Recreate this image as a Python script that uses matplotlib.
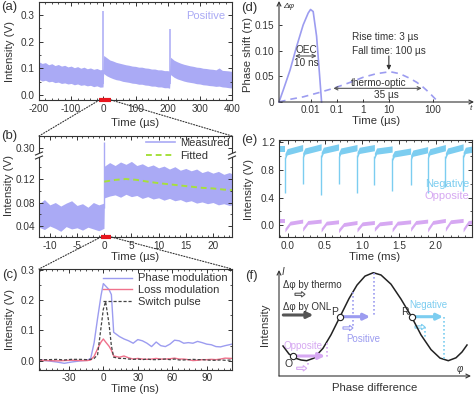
import matplotlib
matplotlib.use("Agg")
import matplotlib.pyplot as plt
from matplotlib.lines import Line2D
from matplotlib.patches import ConnectionPatch, Rectangle
from matplotlib.ticker import MultipleLocator, FixedLocator

plt.rcParams["font.family"] = ["Liberation Sans", "DejaVu Sans"]
plt.rcParams["axes.unicode_minus"] = False

W, H = 474, 398
INK = "#333333"
LAV = "#aaaaf5"
PHASE = "#9c9cf0"
LOSS = "#f0728c"
SWITCH = "#444444"
FIT = "#a6e03c"
NEG = "#7ccdf0"
OPP = "#d6a8f2"
RED = "#e8161e"

# ---- (a) 正向调制, 长时间尺度 (包络) ----
a_t = [-200, -190, -180, -170, -160, -150, -140, -130, -120, -110, -100, -90, -80, -70, -60, -50, -40, -30, -20, -10, -1,
       1, 10, 20, 30, 40, 50, 60, 70, 80, 90, 100, 110, 120, 130, 140, 150, 160, 170, 180, 190, 200, 206,
       209, 220, 230, 240, 250, 260, 270, 280, 290, 300, 310, 320, 330, 340, 350, 360, 370, 380, 390, 400]
a_hi = [0.124, 0.118, 0.121, 0.113, 0.117, 0.110, 0.114, 0.108, 0.111, 0.105, 0.108, 0.102, 0.106, 0.100, 0.104, 0.098, 0.101, 0.096, 0.099, 0.094, 0.096,
        0.148, 0.140, 0.131, 0.127, 0.122, 0.119, 0.116, 0.113, 0.111, 0.108, 0.107, 0.104, 0.104, 0.101, 0.100, 0.097, 0.097, 0.094, 0.094, 0.091, 0.091, 0.089,
        0.141, 0.130, 0.124, 0.119, 0.115, 0.112, 0.109, 0.107, 0.104, 0.103, 0.100, 0.099, 0.097, 0.096, 0.094, 0.101, 0.092, 0.091, 0.090, 0.088]
a_lo = [0.058, 0.052, 0.055, 0.049, 0.051, 0.046, 0.048, 0.043, 0.045, 0.041, 0.043, 0.038, 0.041, 0.036, 0.038, 0.034, 0.036, 0.031, 0.034, 0.029, 0.030,
        0.080, 0.072, 0.066, 0.061, 0.057, 0.055, 0.051, 0.049, 0.047, 0.044, 0.043, 0.040, 0.040, 0.037, 0.036, 0.033, 0.033, 0.030, 0.030, 0.027, 0.027, 0.025,
        0.076, 0.066, 0.060, 0.056, 0.052, 0.049, 0.047, 0.045, 0.042, 0.041, 0.038, 0.037, 0.035, 0.034, 0.032, 0.033, 0.030, 0.029, 0.027, 0.026]
a_spike_t = [0, 207]
a_spike_top = [0.316, 0.246]
zoom_b = (-12, 24)

# ---- (b) 放大 ----
b_t = [-12, -11, -10, -9, -8, -7, -6, -5, -4, -3, -2, -1, -0.05,
       0.05, 1, 2, 3, 4, 5, 6, 7, 8, 9, 10, 11, 12, 13, 14, 15, 16, 17, 18, 19, 20, 21, 22, 23, 24]
b_hi = [0.078, 0.085, 0.076, 0.080, 0.074, 0.079, 0.083, 0.075, 0.078, 0.072, 0.080, 0.076, 0.079,
        0.142, 0.148, 0.143, 0.149, 0.145, 0.150, 0.143, 0.146, 0.141, 0.144, 0.139, 0.142, 0.137, 0.141, 0.135,
        0.138, 0.134, 0.137, 0.131, 0.134, 0.130, 0.133, 0.128, 0.131, 0.127]
b_lo = [0.038, 0.034, 0.040, 0.036, 0.031, 0.039, 0.035, 0.037, 0.033, 0.038, 0.035, 0.032, 0.036,
        0.088, 0.091, 0.093, 0.089, 0.094, 0.090, 0.092, 0.087, 0.090, 0.086, 0.088, 0.084, 0.087, 0.083, 0.085,
        0.081, 0.083, 0.079, 0.081, 0.078, 0.080, 0.076, 0.078, 0.075, 0.077]
fit_t = [0, 2, 4, 6, 8, 10, 12, 14, 16, 18, 20, 22, 24]
fit_v = [0.1155, 0.1185, 0.120, 0.1185, 0.1155, 0.113, 0.111, 0.109, 0.107, 0.105, 0.104, 0.102, 0.101]
b_spike = (0.07, 0.31)
zoom_c = (-0.6, 1.3)

# ---- (c) ns 尺度 ----
c_t = [-56, -48, -40, -34, -28, -20, -14, -11, -8, -5, -2, 0, 2, 5, 7, 9, 14, 18, 22, 26, 30,
       34, 38, 42, 46, 50, 54, 58, 62, 66, 70, 74, 78, 82, 86, 90, 94, 98, 102, 106, 112]
c_phase = [0.003, 0.000, -0.004, -0.008, -0.004, 0.000, 0.002, 0.008, 0.060, 0.140, 0.215, 0.254, 0.246, 0.234, 0.218,
           0.094, 0.080, 0.072, 0.066, 0.058, 0.070, 0.066, 0.058, 0.047, 0.062, 0.050, 0.047, 0.055, 0.068, 0.066,
           0.058, 0.060, 0.058, 0.064, 0.060, 0.055, 0.053, 0.047, 0.046, 0.050, 0.055]
c_loss = [0.002, 0.001, 0.000, 0.001, 0.002, 0.001, 0.001, 0.003, 0.015, 0.040, 0.062, 0.072, 0.062, 0.048, 0.035,
          0.016, 0.012, 0.016, 0.010, 0.006, 0.008, 0.006, 0.005, 0.006, 0.008, 0.006, 0.006, 0.007, 0.009, 0.006,
          0.006, 0.004, 0.001, 0.002, 0.004, 0.004, 0.005, 0.004, 0.006, 0.009, 0.008]
c_switch = [0.004, 0.004, 0.005, 0.003, 0.005, 0.005, 0.004, 0.005, 0.008, 0.020, 0.110, 0.170, 0.195, 0.120, 0.050,
            0.012, 0.008, 0.008, 0.006, 0.005, 0.006, 0.004, 0.006, 0.004, 0.004, 0.005, 0.006, 0.004, 0.006, 0.003,
            0.003, 0.004, 0.005, 0.004, 0.004, 0.003, 0.002, 0.002, 0.003, 0.002, 0.003]

# ---- (d) 示意: 相移 (x 为对数位置) ----
d_oec_x = [-3.2, -3.04, -2.78, -2.53, -2.28, -2.09, -2.0, -1.90, -1.77, -1.66, -1.58]
d_oec_y = [0.0, 0.023, 0.062, 0.108, 0.150, 0.173, 0.180, 0.176, 0.128, 0.055, 0.0]
d_to_x = [-3.2, -2.8, -2.28, -1.7, -1.13, -0.5, 0.0, 0.5, 1.02, 1.4, 1.78, 2.05, 2.29, 2.5, 2.67, 2.86]
d_to_y = [0.0, 0.005, 0.010, 0.018, 0.0266, 0.038, 0.048, 0.055, 0.059, 0.055, 0.046, 0.038, 0.0286, 0.019, 0.010, 0.0]
d_tick_pos = [-2, -1, 0, 1, 2.66]
d_tick_lab = ["0.01", "0.1", "1", "10", "100"]

# ---- (e) 负向 / 反向 ----
e_dip_t = [-0.04, 0.20, 0.45, 0.685, 0.935, 1.17, 1.41, 1.66, 1.89, 2.13, 2.37]
neg_start = [0.99, 1.00, 1.01, 1.00, 1.01, 1.00, 0.97, 0.97, 0.99, 1.00, 1.01]
neg_knee = [1.06, 1.07, 1.08, 1.07, 1.08, 1.07, 1.03, 1.04, 1.06, 1.07, 1.08]
neg_end = [1.12, 1.13, 1.13, 1.12, 1.12, 1.10, 1.07, 1.09, 1.12, 1.13, 1.12]
neg_dip = [0.46, 0.60, 0.44, 0.60, 0.46, 0.58, 0.50, 0.58, 0.46, 0.55, 0.50]
opp_start = [-0.07, -0.06, -0.07, -0.08, -0.07, -0.06, -0.07, -0.06, -0.07, -0.06, -0.07]
opp_knee = [0.03, 0.04, 0.03, 0.01, 0.02, 0.02, 0.03, 0.04, 0.04, 0.05, 0.04]
opp_end = [0.06, 0.06, 0.05, 0.04, 0.04, 0.04, 0.05, 0.06, 0.07, 0.07, 0.06]
NEG_PRE, OPP_PRE = 1.10, 0.06

# ---- (f) 示意: 干涉曲线 ----
f_x = [4, 10, 16, 22, 27.7, 35, 44, 52, 61, 70, 78, 86, 94.3, 102, 112, 122, 132.5, 142, 152, 161, 169.3, 177, 183, 188]
f_y = [30, 22, 18, 16, 15.3, 17.9, 27.7, 41.2, 59.3, 77.4, 90.9, 99.9, 103.3, 101.0, 91.8, 76.9, 59.3, 41.1, 26.4, 17.9, 15.3, 18.2, 24, 31]
f_O, f_P, f_R = (14.3, 20), (61, 59.3), (132.5, 59.3)


fig = plt.figure(figsize=(W / 100, H / 100), dpi=100)


def px_axes(l, t, r, b):
    return fig.add_axes([l / W, 1 - b / H, (r - l) / W, (b - t) / H])


def ftext(x, y, s, **kw):
    kw.setdefault("color", INK)
    return fig.text(x / W, 1 - y / H, s, **kw)


def fline(xs, ys, **kw):
    fig.add_artist(Line2D([x / W for x in xs], [1 - y / H for y in ys], **kw))


def boxed(ax, xmaj, xmin, ymaj, ymin):
    ax.xaxis.set_major_locator(MultipleLocator(xmaj))
    ax.xaxis.set_minor_locator(MultipleLocator(xmin))
    ax.yaxis.set_major_locator(MultipleLocator(ymaj))
    ax.yaxis.set_minor_locator(MultipleLocator(ymin))
    ax.tick_params(which="both", direction="in", top=True, right=True,
                   labelsize=7.2, colors=INK)
    ax.tick_params(axis="x", pad=3)
    ax.tick_params(axis="y", pad=3)
    ax.tick_params(which="major", length=3, width=0.7)
    ax.tick_params(which="minor", length=1.6, width=0.6)
    for s in ax.spines.values():
        s.set_color(INK)
        s.set_linewidth(0.8)


# (a)
ax_a = px_axes(39, 1.5, 232, 100)
ax_a.fill_between(a_t, a_lo, a_hi, color=LAV, lw=0)
ax_a.vlines(a_spike_t, 0.04, a_spike_top, color=LAV, lw=1.1)
ax_a.set_xlim(-200, 400)
ax_a.set_ylim(-0.019, 0.35)
boxed(ax_a, 100, 20, 0.1, 0.05)
ax_a.yaxis.set_major_formatter(lambda v, p: f"{v:.1f}")
ax_a.text(0.965, 0.82, "Positive", transform=ax_a.transAxes, color=LAV, ha="right", fontsize=8)
y0a = ax_a.get_ylim()[0]
ax_a.plot(zoom_b, [y0a, y0a], color=RED, lw=3, clip_on=False, solid_capstyle="butt", zorder=5)

# (b) 断轴
ax_bu = px_axes(39, 136, 232, 155)
ax_b = px_axes(39, 155, 232, 237)
for ax in (ax_bu, ax_b):
    ax.fill_between(b_t, b_lo, b_hi, color=LAV, lw=0)
    ax.vlines(0, b_spike[0], b_spike[1], color=LAV, lw=1.0)
    ax.set_xlim(-12, 23.5)
ax_b.plot(fit_t, fit_v, color=FIT, lw=1.4, dashes=(3, 2))
ax_b.set_ylim(0.0213, 0.1609)
ax_bu.set_ylim(0.2881, 0.3204)
boxed(ax_b, 5, 1, 0.04, 0.02)
boxed(ax_bu, 5, 1, 0.1, 0.1)
ax_b.yaxis.set_major_locator(FixedLocator([0.04, 0.08, 0.12]))
ax_b.yaxis.set_minor_locator(FixedLocator([0.02, 0.06, 0.10, 0.14]))
ax_bu.yaxis.set_major_locator(FixedLocator([0.30]))
ax_bu.yaxis.set_minor_locator(FixedLocator([]))
ax_bu.yaxis.set_major_formatter(lambda v, p: f"{v:.2f}")
ax_b.yaxis.set_major_formatter(lambda v, p: f"{v:.2f}")
ax_b.spines["top"].set_visible(False)
ax_b.tick_params(which="both", top=False)
ax_bu.spines["bottom"].set_visible(False)
ax_bu.tick_params(which="both", bottom=False, labelbottom=False)
y0b = ax_b.get_ylim()[0]
ax_b.plot(zoom_c, [y0b, y0b], color=RED, lw=3, clip_on=False, solid_capstyle="butt", zorder=5)
for xb in (39, 232):
    fig.add_artist(Rectangle(((xb - 3) / W, 1 - 157 / H), 6 / W, 4 / H, transform=fig.transFigure,
                             facecolor="white", edgecolor="none", zorder=10))
    for yb in (153.5, 157.5):
        fline([xb - 3.5, xb + 3.5], [yb + 1.5, yb - 1.5], color=INK, lw=0.8, zorder=11)
fig.legend([Line2D([], [], color=LAV, lw=1.2), Line2D([], [], color=FIT, lw=1.4, dashes=(3, 2))],
           ["Measured", "Fitted"], loc="upper right", bbox_to_anchor=(230 / W, 1 - 138 / H),
           frameon=False, fontsize=8, handlelength=2.6, handletextpad=0.5, labelspacing=0.25,
           borderpad=0, borderaxespad=0, labelcolor=INK)

# (c)
ax_c = px_axes(39, 269, 232, 370)
ax_c.plot(c_t, c_phase, color=PHASE, lw=1.0, label="Phase modulation")
ax_c.plot(c_t, c_loss, color=LOSS, lw=1.0, label="Loss modulation")
ax_c.plot(c_t, c_switch, color=SWITCH, lw=0.9, dashes=(2.5, 1.5), label="Switch pulse")
ax_c.set_xlim(-56, 112)
ax_c.set_ylim(-0.03, 0.302)
boxed(ax_c, 30, 5, 0.1, 0.05)
ax_c.tick_params(axis="x", pad=2.5)
ax_c.yaxis.set_major_formatter(lambda v, p: f"{v:.1f}")
ax_c.legend(loc="upper right", frameon=False, fontsize=8, handlelength=2.6, handletextpad=0.5,
            labelspacing=0.15, borderpad=0.2, borderaxespad=0.2, labelcolor=INK)

# 连接虚线
for xa, xf in ((zoom_b[0], 0), (zoom_b[1], 1)):
    fig.add_artist(ConnectionPatch(xyA=(xa, y0a), coordsA=ax_a.transData, xyB=(xf, 1),
                                   coordsB=ax_bu.transAxes, ls=(0, (1, 1.5)), color=INK, lw=0.8))
for xa, xf in ((zoom_c[0], 0), (zoom_c[1], 1)):
    fig.add_artist(ConnectionPatch(xyA=(xa, y0b), coordsA=ax_b.transData, xyB=(xf, 1),
                                   coordsB=ax_c.transAxes, ls=(0, (1, 1.5)), color=INK, lw=0.8))

# (d)
ax_d = px_axes(279, 1, 474, 102)
ax_d.set_xlim(-3.2, 4.22)
ax_d.set_ylim(0, 0.1965)
for s in ax_d.spines.values():
    s.set_visible(False)
arr = dict(arrowstyle="->", color=INK, lw=0.8, mutation_scale=7, shrinkA=0, shrinkB=0)
ax_d.annotate("", xy=(0, 1), xytext=(0, 0), xycoords="axes fraction", arrowprops=arr)
ax_d.annotate("", xy=(1, 0), xytext=(0, 0), xycoords="axes fraction", arrowprops=arr)
ax_d.set_xticks(d_tick_pos)
ax_d.set_xticklabels(d_tick_lab)
ax_d.set_yticks([0, 0.05, 0.10, 0.15])
ax_d.set_yticklabels(["0", "0.05", "0.10", "0.15"])
ax_d.tick_params(direction="in", length=2, width=0.7, labelsize=7.2, colors=INK)
ax_d.tick_params(axis="x", pad=2)
ax_d.plot(d_oec_x, d_oec_y, color=PHASE, lw=1.2, clip_on=False)
ax_d.plot(d_to_x, d_to_y, color=PHASE, lw=1.2, dashes=(4, 3), clip_on=False)
dbl = dict(arrowstyle="<->", color="#555555", lw=0.8, mutation_scale=6, shrinkA=0, shrinkB=0)
ax_d.annotate("", xy=(-1.77, 0.0895), xytext=(-2.59, 0.0895), arrowprops=dbl)
ax_d.text(-2.15, 0.102, "OEC", ha="center", va="center", fontsize=7.2, color=INK)
ax_d.text(-2.15, 0.076, "10 ns", ha="center", va="center", fontsize=7.2, color=INK)
ax_d.annotate("", xy=(2.23, 0.0266), xytext=(-1.13, 0.0266), arrowprops=dbl)
ax_d.text(0.58, 0.0376, "thermo-optic", ha="center", va="center", fontsize=7.2, color=INK)
ax_d.text(0.9, 0.0136, "35 µs", ha="center", va="center", fontsize=7.2, color=INK)
ax_d.text(-0.44, 0.126, "Rise time: 3 µs", ha="left", va="center", fontsize=7.2, color=INK)
ax_d.text(-0.44, 0.1, "Fall time: 100 µs", ha="left", va="center", fontsize=7.2, color=INK)
ax_d.annotate("", xy=(0.98, 0.0623), xytext=(0.98, 0.0895),
              arrowprops=dict(arrowstyle="-|>", color=INK, lw=0.8, mutation_scale=6, shrinkA=0, shrinkB=0))
ax_d.text(-3.05, 0.186, "Δφ", fontsize=6, style="italic", color=INK, va="center")
ax_d.text(4.05, -0.012, "t", fontsize=6, style="italic", color=INK, va="center")

# (e)
ax_e = px_axes(279, 140, 472, 237)
NEG_HW, OPP_HW = 0.045, 0.028
edges = e_dip_t[1:] + [2.6]
ax_e.fill_between([-0.2, e_dip_t[0]], NEG_PRE - NEG_HW, NEG_PRE + NEG_HW, color=NEG, lw=0)
ax_e.fill_between([-0.2, e_dip_t[0]], OPP_PRE - OPP_HW, OPP_PRE + OPP_HW, color=OPP, lw=0)
for i, t0 in enumerate(e_dip_t):
    tn = [t0, t0 + 0.03, edges[i]]
    cn = [neg_start[i], neg_knee[i], neg_end[i]]
    ax_e.fill_between(tn, [v - NEG_HW for v in cn], [v + NEG_HW for v in cn], color=NEG, lw=0)
    ax_e.vlines(t0, neg_dip[i], neg_start[i], color=NEG, lw=1.0)
    to = [t0, t0 + 0.07, edges[i]]
    co = [opp_start[i], opp_knee[i], opp_end[i]]
    ax_e.fill_between(to, [v - OPP_HW for v in co], [v + OPP_HW for v in co], color=OPP, lw=0)
ax_e.set_xlim(-0.12, 2.49)
ax_e.set_ylim(-0.17, 1.23)
boxed(ax_e, 0.5, 0.1, 0.4, 0.2)
ax_e.xaxis.set_major_formatter(lambda v, p: f"{v:.1f}")
ax_e.yaxis.set_major_formatter(lambda v, p: f"{v:.1f}")
ax_e.text(0.985, 0.52, "Negative", transform=ax_e.transAxes, color=NEG, ha="right", fontsize=8)
ax_e.text(0.985, 0.39, "Opposite", transform=ax_e.transAxes, color=OPP, ha="right", fontsize=8)

# (f)
ax_f = px_axes(279, 270, 471, 376)
ax_f.set_xlim(0, 192)
ax_f.set_ylim(0, 106)
ax_f.axis("off")
ax_f.annotate("", xy=(0, 1), xytext=(0, 0), xycoords="axes fraction", arrowprops=arr)
ax_f.annotate("", xy=(1, 0), xytext=(0, 0), xycoords="axes fraction", arrowprops=arr)
ax_f.plot(f_x, f_y, color="#222222", lw=1.1)
dot = (0, (1, 1.4))
for x, ya, yb, col in ((74.3, 84.3, 49.3, PHASE), (95.3, 103.3, 59.3, PHASE),
                       (165, 59.3, 16, NEG), (146, 49, 39, NEG),
                       (48.3, 32.7, 19.3, OPP), (29.3, 12.7, 8.7, OPP)):
    ax_f.plot([x, x], [ya, yb], color=col, lw=1.2, ls=dot)


def solid_arrow(x0, x1, y, col):
    ax_f.annotate("", xy=(x1, y), xytext=(x0, y),
                  arrowprops=dict(arrowstyle="-|>", color=col, lw=2.2, mutation_scale=9, shrinkA=0, shrinkB=0))


def hollow_arrow(x0, x1, y, col):
    ax_f.arrow(x0, y, x1 - x0, 0, width=2.2, head_width=5.5, head_length=3.5,
               length_includes_head=True, fc="white", ec=col, lw=0.8)


solid_arrow(f_P[0] + 2, 91, f_P[1], PHASE)
solid_arrow(f_R[0] + 2, 164, f_R[1], NEG)
solid_arrow(f_O[0] + 2, 46, f_O[1], OPP)
solid_arrow(4.3, 34.3, 61, "#555555")
hollow_arrow(16, 26, 81.7, "#555555")
hollow_arrow(64, 74, 48, PHASE)
hollow_arrow(136, 146, 49, NEG)
hollow_arrow(17.7, 27.7, 7.7, OPP)
for pt in (f_O, f_P, f_R):
    ax_f.plot(*pt, "o", ms=4.5, mfc="white", mec="#222222", mew=0.8, zorder=5)
ax_f.text(4.3, 91, "Δφ by thermo", fontsize=7, color=INK, va="center")
ax_f.text(4.3, 69, "Δφ by ONL", fontsize=7, color=INK, va="center")
ax_f.text(58.5, 64, "P", fontsize=7.5, color=INK, ha="right", va="center")
ax_f.text(130, 64, "R", fontsize=7.5, color=INK, ha="right", va="center")
ax_f.text(10, 12, "O", fontsize=7.5, color=INK, ha="center", va="center")
ax_f.text(84, 37, "Positive", fontsize=7, color=PHASE, ha="center", va="center")
ax_f.text(149, 71, "Negative", fontsize=7, color=NEG, ha="center", va="center")
ax_f.text(23.5, 30, "Opposite", fontsize=7, color=OPP, ha="center", va="center")
ax_f.text(3, 104, "I", fontsize=7, style="italic", color=INK, va="center")
ax_f.text(178, 7, "φ", fontsize=7, style="italic", color=INK, va="center")

# 文字标签
for x, y, s in ((1, 7, "(a)"), (1, 136, "(b)"), (2, 275, "(c)"),
                (241, 8, "(d)"), (241, 140, "(e)"), (245, 276, "(f)")):
    ftext(x, y, s, fontsize=9.5, va="center")
for x, y, s in ((10, 51, "Intensity (V)"), (9, 186, "Intensity (V)"), (10, 320, "Intensity (V)"),
                (248, 55, "Phase shift (π)"), (249, 190, "Intensity (V)"), (265, 325, "Intensity")):
    ftext(x, y, s, fontsize=8.2, rotation=90, ha="center", va="center")
for x, y, s in ((135, 122.5, "Time (µs)"), (135, 257, "Time (µs)"), (135, 389, "Time (ns)"),
                (376, 121, "Time (µs)"), (375, 257, "Time (ms)"), (375, 388, "Phase difference")):
    ftext(x, y, s, fontsize=8.2, ha="center", va="center")

fig.savefig("out.png", dpi=100)
